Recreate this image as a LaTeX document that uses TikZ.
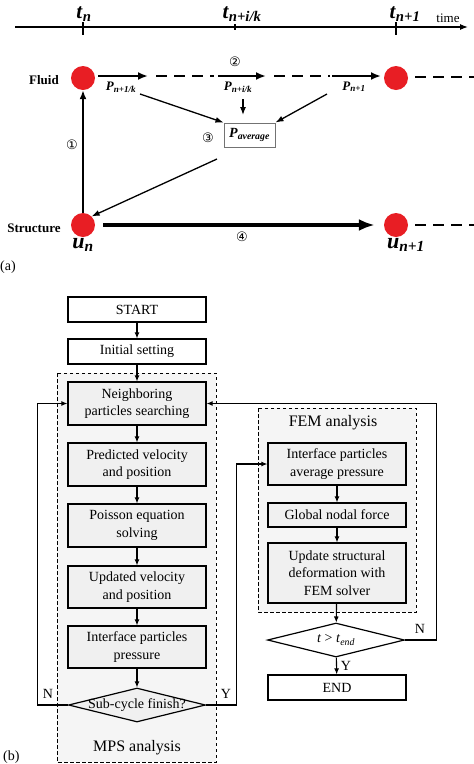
\documentclass[tikz,border=0pt]{standalone}
\usepackage{fontspec}
\setmainfont{Liberation Serif}
\newfontfamily\djv{DejaVu Sans}
\usetikzlibrary{shapes.geometric,arrows.meta}
\definecolor{dotred}{RGB}{232,30,36}
\definecolor{boxgray}{RGB}{240,240,240}
\definecolor{regiongray}{RGB}{245,245,245}
\newcommand\bi[1]{\textbf{\textit{#1}}}
\newcommand\fs[1]{\fontsize{#1}{#1}\selectfont}
\begin{document}
\begin{tikzpicture}[x=1pt,y=-1pt,
  dot/.style={circle,fill=dotred,minimum size=24pt,inner sep=0pt},
  fbox/.style={draw,line width=1.2pt,fill=boxgray,minimum width=138pt,align=center,inner sep=0pt,font=\fontsize{14}{17.5}\selectfont},
  wbox/.style={fbox,fill=white},
  region/.style={draw,line width=1pt,fill=regiongray,dash pattern=on 3.5pt off 2.5pt},
  flow/.style={-{Latex[length=6pt,width=5pt]},line width=1.1pt},
  fluidarrow/.style={-{Latex[length=10pt,width=8pt]},line width=2pt},
  fluiddash/.style={line width=2pt,dash pattern=on 11pt off 7pt},
  thinarrow/.style={-{Latex[length=8pt,width=6pt]},line width=1.3pt},
  lab/.style={inner sep=0pt,anchor=base},
  circnum/.style={inner sep=0pt,font=\djv\fs{13}},
  decision/.style={diamond,draw,line width=1.2pt,minimum width=137pt,minimum height=34pt,inner sep=0pt},
  ftext/.style={inner sep=0pt,font=\fs{14}}
]
\useasboundingbox (0,0) rectangle (474,764);

% ---------- (a) ----------
\coordinate (ax0) at (15,27);
\coordinate (ax1) at (468,27);
\draw[-{Latex[length=8pt,width=6pt]},line width=1.2pt] (ax0) -- (ax1);
\draw[line width=2pt] (83,22) -- (83,35);
\draw[line width=1.2pt] (235,24) -- (235,30);
\draw[line width=2pt] (396,22) -- (396,35);
\node[lab] (tn) at (84,18) {\fs{21}\bi{t}\textsubscript{\bi{n}}};
\node[lab] (tk) at (242,18) {\fs{21}\bi{t}\textsubscript{\bi{n+i/k}}};
\node[lab] (t1) at (405,18) {\fs{21}\bi{t}\textsubscript{\bi{n+1}}};
\node[lab] (time) at (448,22) {\fs{13}time};

\node[dot] (f0) at (83,78) {};
\node[dot] (f1) at (396,78) {};
\node[dot] (s0) at (83,225) {};
\node[dot] (s1) at (396,225) {};
\node[inner sep=0pt,font=\bfseries\fs{13}] (fluid) at (44,80) {Fluid};
\node[inner sep=0pt,font=\bfseries\fs{13}] (structure) at (34,228) {Structure};

\coordinate (a1s) at (98,76);  \coordinate (a1e) at (148,76);
\coordinate (d1s) at (156,76); \coordinate (d1e) at (214,76);
\coordinate (a2s) at (218,76); \coordinate (a2e) at (266,76);
\coordinate (d2s) at (274,76); \coordinate (d2e) at (330,76);
\coordinate (a3s) at (332,76); \coordinate (a3e) at (381,76);
\coordinate (d3s) at (415,77); \coordinate (d3e) at (474,77);
\draw[fluidarrow] (a1s) -- (a1e);
\draw[fluiddash] (d1s) -- (d1e);
\draw[fluidarrow] (a2s) -- (a2e);
\draw[fluiddash] (d2s) -- (d2e);
\draw[fluidarrow] (a3s) -- (a3e);
\draw[fluiddash] (d3s) -- (d3e);

\node[lab] (p1) at (121,90) {\fs{13}\bi{P}\textsubscript{\bi{n+1/k}}};
\node[lab] (pk) at (238,90) {\fs{13}\bi{P}\textsubscript{\bi{n+i/k}}};
\node[lab] (pn) at (354,90) {\fs{13}\bi{P}\textsubscript{\bi{n+1}}};
\node[circnum] (c2) at (235,62) {②};

\node[draw=black!55,line width=1pt,minimum width=51pt,minimum height=24pt,inner sep=0pt] (pavg) at (249.5,135) {\fs{14}\bi{P}\textsubscript{\bi{average}}};
\node[circnum] (c3) at (208,138) {③};
\coordinate (q1) at (140,94);
\coordinate (q2) at (243,99);
\coordinate (q3) at (327,94);
\draw[thinarrow] (q1) -- (pavg.north west);
\draw[thinarrow] (q2) -- (243,115);
\draw[thinarrow] (q3) -- (pavg.north east);
\coordinate (q4) at (217,159);
\draw[thinarrow] (q4) -- (s0.north east);

\draw[-{Latex[length=9pt,width=7pt]},line width=1.8pt] (s0.north) -- (f0.south);
\node[circnum] (c1) at (72,145) {①};

\draw[-{Latex[length=16pt,width=12pt]},line width=3.5pt] (s0.east) ++(8,0) -- ([xshift=-9pt]s1.west);
\node[circnum] (c4) at (242,237) {④};
\coordinate (d4s) at (415,225); \coordinate (d4e) at (474,225);
\draw[fluiddash] (d4s) -- (d4e);

\node[lab] (un) at (83,248) {\fs{22}\bi{u}\textsubscript{\bi{n}}};
\node[lab] (u1) at (406,248) {\fs{22}\bi{u}\textsubscript{\bi{n+1}}};
\node[lab,anchor=base west] (la) at (0,270) {\fs{14}(a)};

% ---------- (b) ----------
\draw[region] (57,373) rectangle (216,762);
\draw[region] (258,408) rectangle (416,612);

\node[wbox,minimum height=25pt] (start) at (137,309.5) {START};
\node[wbox,minimum height=25pt] (init) at (137,351.5) {Initial setting};
\node[fbox,minimum height=43pt] (neigh) at (137,403.5) {Neighboring\\particles searching};
\node[fbox,minimum height=43pt] (pred) at (137,464.5) {Predicted velocity\\and position};
\node[fbox,minimum height=43pt] (pois) at (137,525.5) {Poisson equation\\solving};
\node[fbox,minimum height=42pt] (upd) at (137,587) {Updated velocity\\and position};
\node[fbox,minimum height=42pt] (ipp) at (137,647) {Interface particles\\pressure};
\node[decision,fill=boxgray] (sub) at (137,705) {};
\node[ftext] (subt) at (137,705) {Sub-cycle finish?};
\node[inner sep=0pt,font=\fs{16}] (mps) at (137,748) {MPS analysis};

\node[inner sep=0pt,font=\fs{16}] (fem) at (333,423) {FEM analysis};
\node[fbox,minimum height=42pt] (iap) at (337,464) {Interface particles\\average pressure};
\node[fbox,minimum height=24pt] (gnf) at (337,515) {Global nodal force};
\node[fbox,minimum height=60pt] (ups) at (337,573) {Update structural\\deformation with\\FEM solver};
\node[decision,fill=white] (tend) at (336,640) {};
\node[ftext] (tendt) at (336,640) {\textit{t} > \textit{t}\textsubscript{\textit{end}}};
\node[wbox,minimum height=25pt] (end) at (337,687.5) {END};

\draw[flow] (start) -- (init);
\draw[flow] (init) -- (neigh);
\draw[flow] (neigh) -- (pred);
\draw[flow] (pred) -- (pois);
\draw[flow] (pois) -- (upd);
\draw[flow] (upd) -- (ipp);
\draw[flow] (ipp) -- (sub);
\draw[flow] (sub.west) -- ++(-30,0) |- (neigh.west);
\draw[flow] (sub.east) -- ++(30,0) |- (iap.west);
\draw[flow] (iap) -- (gnf);
\draw[flow] (gnf) -- (ups);
\draw[flow] (ups) -- (tend);
\draw[flow] (tend.east) -- ++(31,0) |- (neigh.east);
\draw[flow] (tend) -- (end);

\node[ftext] (nl) at (48,694) {N};
\node[ftext] (yl) at (226,694) {Y};
\node[ftext] (nr) at (420,629) {N};
\node[ftext] (yr) at (346,666) {Y};
\node[lab,anchor=base west] (lb) at (3,760) {\fs{14}(b)};
\end{tikzpicture}
\end{document}
